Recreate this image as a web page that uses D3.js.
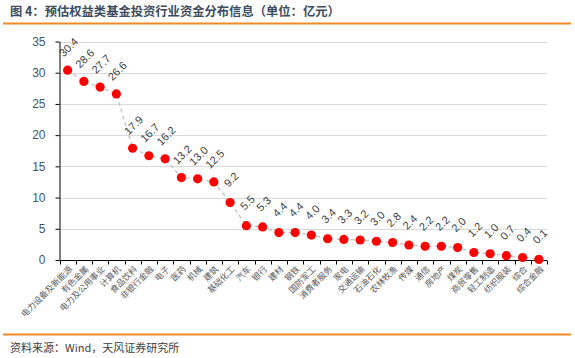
<!DOCTYPE html>
<html><head><meta charset="utf-8">
<script src="https://cdn.jsdelivr.net/npm/d3@7"></script>
<style>
html,body{margin:0;padding:0;background:#fff;}
svg{display:block;font-family:"Noto Sans CJK SC","Microsoft YaHei",sans-serif;}
</style>
</head><body>
<svg id="chart" width="575" height="358"></svg>
<script>
const categories = ["电力设备及新能源","有色金属","电力及公用事业","计算机","食品饮料","非银行金融","电子","医药","机械","建筑","基础化工","汽车","银行","建材","钢铁","国防军工","消费者服务","家电","交通运输","石油石化","农林牧渔","传媒","通信","房地产","煤炭","商贸零售","轻工制造","纺织服装","综合","综合金融"];
const values = [30.4,28.6,27.7,26.6,17.9,16.7,16.2,13.2,13.0,12.5,9.2,5.5,5.3,4.4,4.4,4.0,3.4,3.3,3.2,3.0,2.8,2.4,2.2,2.2,2.0,1.2,1.0,0.7,0.4,0.1];
const yTicks = [0,5,10,15,20,25,30,35];
const title = "图 4：预估权益类基金投资行业资金分布信息（单位：亿元）";
const source = "资料来源：Wind，天风证券研究所";

const svg = d3.select("#chart");
const data = categories.map((c,i)=>({c, v: values[i]}));

// title & rules
svg.append("text").attr("x",10).attr("y",16).attr("font-size",12.3).attr("font-weight","bold")
  .attr("fill","#3d4b5c").text(title);
svg.append("line").attr("x1",3).attr("x2",571).attr("y1",23.5).attr("y2",23.5)
  .attr("stroke","#f08a24").attr("stroke-width",2.2);
svg.append("line").attr("x1",3).attr("x2",571).attr("y1",334.5).attr("y2",334.5)
  .attr("stroke","#f08a24").attr("stroke-width",2.2);
svg.append("text").attr("x",10).attr("y",352).attr("font-size",11).attr("fill","#404040").text(source);

const x = d3.scaleBand().domain(categories).range([59.5,547]).paddingInner(0).paddingOuter(0);
const y = d3.scaleLinear().domain([0,35]).range([260,41.5]);

// grid
svg.append("g").selectAll("line").data(yTicks.filter(t=>t>0)).join("line")
  .attr("x1",59.5).attr("x2",547).attr("y1",d=>Math.round(y(d))+0.5).attr("y2",d=>Math.round(y(d))+0.5)
  .attr("stroke","#d9d9d9").attr("stroke-width",1);

// y axis
const yAxis = svg.append("g").attr("transform","translate(59.5,0)")
  .call(d3.axisLeft(y).tickValues(yTicks).tickSize(4).tickSizeOuter(0).tickPadding(10));
yAxis.select(".domain").attr("stroke","#000");
yAxis.selectAll(".tick line").attr("stroke","#000");
yAxis.selectAll("text").attr("font-size",12).attr("fill","#44546a").attr("font-family","'Liberation Sans',Arial,sans-serif");

// x axis with ticks at band boundaries
const xAxisG = svg.append("g").attr("transform","translate(0,260.5)");
xAxisG.append("line").attr("x1",59.5).attr("x2",547).attr("stroke","#000");
const bounds = categories.map(c=>x(c)).concat([x.range()[1]]);
xAxisG.selectAll("line.tk").data(bounds).join("line").attr("class","tk")
  .attr("x1",d=>Math.round(d)+0.5).attr("x2",d=>Math.round(d)+0.5).attr("y1",0).attr("y2",4).attr("stroke","#000");
xAxisG.selectAll("text").data(categories).join("text")
  .attr("transform",d=>`translate(${x(d)+x.bandwidth()/2+3},${7}) rotate(-45)`)
  .attr("text-anchor","end").attr("dy","0.35em")
  .attr("font-size",8.5).attr("fill","#595959").text(d=>d);

// line
const cx = d=>x(d.c)+x.bandwidth()/2;
svg.append("path").datum(data)
  .attr("d",d3.line().x(cx).y(d=>y(d.v)))
  .attr("fill","none").attr("stroke","#bfbfbf").attr("stroke-width",1.2).attr("stroke-dasharray","4,3");

// points
svg.append("g").selectAll("circle").data(data).join("circle")
  .attr("cx",cx).attr("cy",d=>y(d.v)).attr("r",4.6).attr("fill","#ff0000");

// labels
svg.append("g").selectAll("text").data(data).join("text")
  .attr("transform",d=>`translate(${cx(d)+1},${y(d.v)-23}) rotate(-45)`)
  .attr("text-anchor","middle").attr("dy","0.35em")
  .attr("font-size",11).attr("fill","#404040").attr("font-family","'Liberation Sans',Arial,sans-serif")
  .text(d=>d.v.toFixed(1));
</script>
</body></html>
